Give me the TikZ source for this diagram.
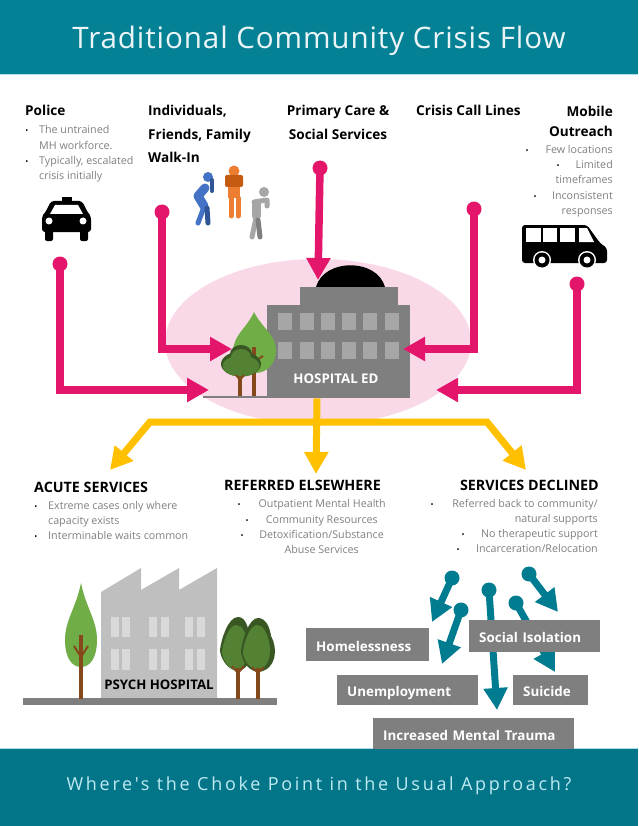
\documentclass[tikz,border=0pt]{standalone}
\usepackage{fontspec}
\setmainfont{Open Sans}
\newfontfamily\titlefont[LetterSpace=3]{Open Sans}
\newfontfamily\choke[LetterSpace=15]{Open Sans}
\usetikzlibrary{positioning,calc,arrows.meta,shapes.geometric}
\definecolor{crisisteal}{RGB}{0,124,145}
\definecolor{bandtop}{RGB}{5,129,149}
\definecolor{bandbottom}{RGB}{2,117,137}
\definecolor{bandedge}{RGB}{170,222,232}
\definecolor{chokecyan}{RGB}{190,235,242}
\definecolor{crisispink}{RGB}{227,22,108}
\definecolor{crisisyellow}{RGB}{255,192,0}
\definecolor{edpink}{RGB}{249,217,232}
\definecolor{buildgray}{RGB}{127,127,127}
\definecolor{windowgray}{RGB}{166,166,166}
\definecolor{psychgray}{RGB}{191,191,191}
\definecolor{psychwindow}{RGB}{217,217,217}
\definecolor{textgray}{RGB}{128,128,128}
\definecolor{leafgreen}{RGB}{112,173,71}
\definecolor{treegreen}{RGB}{84,130,53}
\definecolor{treedark}{RGB}{56,87,35}
\definecolor{trunkbrown}{RGB}{133,72,26}
\definecolor{figblue}{RGB}{68,114,196}
\definecolor{figbluedark}{RGB}{47,85,151}
\definecolor{figorange}{RGB}{237,125,49}
\definecolor{figorangedark}{RGB}{197,90,17}
\definecolor{figgray}{RGB}{166,166,166}
\definecolor{figgraydark}{RGB}{127,127,127}
\tikzstyle{heading} = [inner sep=0pt, yshift=-1.5pt, text height=10pt, text depth=3pt, font=\fontsize{13.6}{16}\selectfont\bfseries, text=black]
\tikzstyle{capsheading} = [heading, font=\fontsize{14.3}{16}\selectfont\bfseries]
\tikzstyle{bodyline} = [inner sep=0pt, yshift=-1.5pt, text height=7.7pt, text depth=2.3pt, font=\fontsize{10.7}{12}\selectfont, text=textgray]
\tikzstyle{bulletmark} = [inner sep=0pt, yshift=-1.5pt, text height=7.7pt, text depth=2.3pt, font=\fontsize{8}{9}\selectfont, text=black]
\tikzstyle{startdot} = [circle, inner sep=0pt, minimum size=15pt]
\tikzstyle{pinkarrow} = [line width=7.5pt, draw=crisispink, -{Triangle[length=22pt,width=23pt]}]
\tikzstyle{yellowarrow} = [line width=7pt, draw=crisisyellow, -{Triangle[length=22pt,width=23pt]}]
\tikzstyle{tealarrow} = [line width=7pt, draw=crisisteal, -{Triangle[length=22pt,width=23pt]}]
\tikzstyle{outcome} = [anchor=north west, inner xsep=10pt, inner ysep=0pt, text height=14pt, text depth=1.4pt, fill=buildgray, text=white, align=left, font=\fontsize{13.4}{15}\selectfont\bfseries]
\tikzstyle{tree} = [draw=none, fill=leafgreen]
\tikzstyle{trunk} = [line width=3.5pt, draw=trunkbrown]
\tikzstyle{twig} = [line width=2pt, draw=trunkbrown]
\begin{document}
\begin{tikzpicture}[x=1pt,y=-1pt]
        \path[use as bounding box, fill=white] (0,0) rectangle (638,826);
        % Bands ------------------------------------------------------------------------------------
        \fill[bandtop] (0,0) rectangle (638,74);
        \fill[bandedge] (0,74) rectangle (638,75);
        \fill[bandbottom] (0,749) rectangle (638,826);
        \fill[bandedge] (0,748) rectangle (638,749);
        \node[inner sep=0pt, text=white!92!bandtop, font=\fontsize{29.6}{32}\selectfont\titlefont] (title) at (319,41) {Traditional Community Crisis Flow};
        \node[inner sep=0pt, text=chokecyan, font=\fontsize{18}{22}\selectfont\choke] (choke_point) at (319,786) {Where's the Choke Point in the Usual Approach?};
        % Hospital ---------------------------------------------------------------------------------
        \node[ellipse, fill=edpink, inner sep=0pt, minimum width=306pt, minimum height=166pt] (ed_ellipse) at (318,342) {};
        \fill[black] (316,287) .. controls (324,258) and (377,258) .. (385,287) -- cycle;
        \fill[buildgray] (300,287) rectangle (398,305);
        \node[fill=buildgray, inner sep=0pt, minimum width=143pt, minimum height=93pt, anchor=north west, text=white] (hospital) at (267,305) {};
        \foreach \x in {278,300,321,342,363,385} {
            \fill[windowgray] (\x,313) rectangle ++(14,17);
            \fill[windowgray] (\x,342) rectangle ++(14,17);
        }
        \node[inner sep=0pt, text=white, font=\fontsize{13.3}{14}\selectfont\bfseries] (hospital_label) at (336,379) {HOSPITAL ED};
        \fill[buildgray] (203,396) rectangle (267,398);
        % Hospital droplet tree
        \fill[tree] (254,312) .. controls (247,328) and (233,335) .. (233,352) .. controls (233,366) and (243,373) .. (255,373) .. controls (267,373) and (276,364) .. (276,350) .. controls (276,335) and (262,328) .. (254,312) -- cycle;
        \draw[trunk] (254,347) -- (254,396);
        \draw[twig] (254,362) -- (263,356);
        % Pink arrows ------------------------------------------------------------------------------
        \node[startdot, fill=crisispink] (police_dot) at (60,264) {};
        \node[startdot, fill=crisispink] (people_dot) at (162,212) {};
        \node[startdot, fill=crisispink] (primary_dot) at (320,168) {};
        \node[startdot, fill=crisispink] (crisis_dot) at (474,209) {};
        \node[startdot, fill=crisispink] (mobile_dot) at (577,284) {};
        \coordinate (police_tip) at (209,390);
        \coordinate (people_tip) at (232,349);
        \coordinate (primary_tip) at (318,280);
        \coordinate (crisis_tip) at (403,349);
        \coordinate (mobile_tip) at (436,390);
        \draw[pinkarrow] (police_dot.center) |- (police_tip);
        \draw[pinkarrow] (people_dot.center) |- (people_tip);
        \draw[pinkarrow] (primary_dot.center) -- (primary_tip);
        \draw[pinkarrow] (crisis_dot.center) |- (crisis_tip);
        \draw[pinkarrow] (mobile_dot.center) |- (mobile_tip);
        % Hospital round tree
        \draw[trunk] (240,372) -- (240,396);
        \fill[treedark] (241,354) ellipse[x radius=11, y radius=9];
        \fill[treedark] (241,364) ellipse[x radius=20, y radius=12.5];
        \fill[treegreen] (241,357) ellipse[x radius=10, y radius=8];
        \fill[treegreen] (241,366) ellipse[x radius=18.5, y radius=10.5];
        \draw[twig] (240,380) -- (236,375);
        \draw[twig] (240,380) -- (244,375);
        % Yellow arrows ----------------------------------------------------------------------------
        \coordinate (split) at (317,422);
        \coordinate (acute_bend) at (150,422);
        \coordinate (declined_bend) at (487,422);
        \coordinate (acute_tip) at (110,470);
        \coordinate (elsewhere_tip) at (316,474);
        \coordinate (declined_tip) at (526,470);
        \draw[yellowarrow] (hospital.south -| split) -- (elsewhere_tip);
        \draw[yellowarrow] (split) -- (acute_bend) -- (acute_tip);
        \draw[yellowarrow] (split) -- (declined_bend) -- (declined_tip);
        % Icons ------------------------------------------------------------------------------------
        % Taxi
        \fill[black] (62,197) rectangle (72,201);
        \fill[black, rounded corners=3pt] (51,201) -- (82,201) -- (88,213) -- (91,216) -- (91,232) -- (42,232) -- (42,216) -- (45,213) -- cycle;
        \fill[black, rounded corners=2pt] (45,230) rectangle (53,241);
        \fill[black, rounded corners=2pt] (80,230) rectangle (88,241);
        \fill[white] (55,205) -- (78,205) -- (83,214) -- (50,214) -- cycle;
        \fill[white] (49,221) circle (3.5);
        \fill[white] (83,221) circle (3.5);
        % Bus
        \fill[black, rounded corners=3pt] (522,225) -- (587,225) -- (600,243) -- (607,248) -- (607,263) -- (522,263) -- cycle;
        \fill[white] (526,228) rectangle (541,242);
        \fill[white] (543,228) rectangle (557,242);
        \fill[white] (560,228) rectangle (575,242);
        \fill[white] (579,228) -- (587,228) -- (594,242) -- (579,242) -- cycle;
        \foreach \x in {542,587} {
            \fill[white] (\x,260) circle (9);
            \fill[black] (\x,260) circle (7.5);
            \fill[white] (\x,260) circle (3.5);
        }
        % Walk-in people
        \fill[figblue] (208,177) circle (5);
        \draw[line width=9pt, line cap=round, line join=round, figblue] (205,188) -- (198,196) -- (204,206);
        \draw[line width=5pt, line cap=round, figblue] (204,207) -- (198,223);
        \draw[line width=5pt, line cap=round, figbluedark] (207,208) -- (208,223);
        \draw[line width=4pt, line cap=round, figbluedark] (212,180) -- (212,191);
        \fill[figorange] (234,171) circle (5.5);
        \fill[figorange] (228,177) rectangle (240,198);
        \draw[line width=5pt, line cap=round, figorange] (231,198) -- (231,216);
        \draw[line width=5pt, line cap=round, figorange] (238,198) -- (238,216);
        \fill[figorangedark, rounded corners=2pt] (225,175) rectangle (243,187);
        \fill[figgray] (264,192) circle (5);
        \draw[line width=9pt, line cap=round, figgray] (256,204) -- (256,216);
        \draw[line width=5pt, line cap=round, figgray] (256,218) -- (252,237);
        \draw[line width=5pt, line cap=round, figgraydark] (258,220) -- (260,237);
        \draw[line width=5pt, line cap=round, line join=round, figgray] (254,202) -- (267,200) -- (267,206);
        % Source texts -----------------------------------------------------------------------------
        \node[heading, anchor=west] (police) at (25,111) {Police};
        \node[bulletmark] (police_b1) at (27,129) {•};
        \node[bodyline, anchor=west] (police_l1) at (39,129) {The untrained};
        \node[bodyline, anchor=west] (police_l2) at (39,145) {MH workforce.};
        \node[bulletmark] (police_b2) at (27,160) {•};
        \node[bodyline, anchor=west] (police_l3) at (39,160) {Typically, escalated};
        \node[bodyline, anchor=west] (police_l4) at (39,175) {crisis initially};
        \node[heading, anchor=west] (people_a) at (148,111) {Individuals,};
        \node[heading, anchor=west] (people_b) at (148,135) {Friends, Family};
        \node[heading, anchor=west] (people_c) at (148,158) {Walk-In};
        \node[heading] (primary_a) at (338,111) {Primary Care \&};
        \node[heading] (primary_b) at (338,135) {Social Services};
        \node[heading, anchor=west] (crisis_lines) at (416,111) {Crisis Call Lines};
        \node[heading, anchor=east] (mobile_a) at (613,112) {Mobile};
        \node[heading, anchor=east] (mobile_b) at (613,132) {Outreach};
        \node[bulletmark] (mobile_b1) at (527,149) {•};
        \node[bodyline, anchor=east] (mobile_l1) at (613,149) {Few locations};
        \node[bulletmark] (mobile_b2) at (558,164) {•};
        \node[bodyline, anchor=east] (mobile_l2) at (613,164) {Limited};
        \node[bodyline, anchor=east] (mobile_l3) at (613,179) {timeframes};
        \node[bulletmark] (mobile_b3) at (535,195) {•};
        \node[bodyline, anchor=east] (mobile_l4) at (613,195) {Inconsistent};
        \node[bodyline, anchor=east] (mobile_l5) at (613,210) {responses};
        % Result texts -----------------------------------------------------------------------------
        \node[capsheading, anchor=west] (acute) at (34,487) {ACUTE SERVICES};
        \node[bulletmark] (acute_b1) at (36,505) {•};
        \node[bodyline, anchor=west] (acute_l1) at (48,505) {Extreme cases only where};
        \node[bodyline, anchor=west] (acute_l2) at (48,520) {capacity exists};
        \node[bulletmark] (acute_b2) at (36,535) {•};
        \node[bodyline, anchor=west] (acute_l3) at (48,535) {Interminable waits common};
        \node[capsheading, anchor=west] (elsewhere) at (224,485) {REFERRED ELSEWHERE};
        \node[bulletmark] (elsewhere_b1) at (239,503) {•};
        \node[bodyline, anchor=east] (elsewhere_l1) at (386,503) {Outpatient Mental Health};
        \node[bulletmark] (elsewhere_b2) at (247,519) {•};
        \node[bodyline, anchor=east] (elsewhere_l2) at (378,519) {Community Resources};
        \node[bulletmark] (elsewhere_b3) at (242,534) {•};
        \node[bodyline, anchor=east] (elsewhere_l3) at (384,534) {Detoxification/Substance};
        \node[bodyline, anchor=east] (elsewhere_l4) at (359,549) {Abuse Services};
        \node[capsheading, anchor=east] (declined) at (599,485) {SERVICES DECLINED};
        \node[bulletmark] (declined_b1) at (432,503) {•};
        \node[bodyline, anchor=east] (declined_l1) at (598,503) {Referred back to community/};
        \node[bodyline, anchor=east] (declined_l2) at (598,518) {natural supports};
        \node[bulletmark] (declined_b2) at (463,533) {•};
        \node[bodyline, anchor=east] (declined_l3) at (598,533) {No therapeutic support};
        \node[bulletmark] (declined_b3) at (458,548) {•};
        \node[bodyline, anchor=east] (declined_l4) at (598,548) {Incarceration/Relocation};
        % Psych hospital ---------------------------------------------------------------------------
        \fill[psychgray] (101,699) -- (101,592) -- (141,568) -- (141,590) -- (179,568) -- (179,590) -- (217,568) -- (217,699) -- cycle;
        \foreach \x in {111,122,149,161,185,197} {
            \fill[psychwindow] (\x,617) rectangle ++(8,20);
            \fill[psychwindow] (\x,649) rectangle ++(8,21);
        }
        \node[inner sep=0pt, font=\fontsize{13.2}{14}\selectfont\bfseries] (psych_label) at (159,685) {PSYCH HOSPITAL};
        \fill[buildgray] (23,698) rectangle (277,705);
        \fill[tree] (81,583) .. controls (76,608) and (65,620) .. (65,640) .. controls (65,658) and (72,667) .. (81,667) .. controls (90,667) and (97,658) .. (97,640) .. controls (97,620) and (86,608) .. (81,583) -- cycle;
        \draw[trunk] (81,635) -- (81,699);
        \draw[twig] (81,657) -- (74,646);
        \draw[twig] (81,657) -- (88,646);
        \fill[treedark] (238,617) .. controls (246,617) and (248,628) .. (250,636) .. controls (255,650) and (250,670) .. (238,671) .. controls (226,670) and (220,656) .. (220,650) .. controls (221,640) and (228,617) .. (238,617) -- cycle;
        \fill[treegreen] (236,625) .. controls (243,625) and (246,634) .. (248,642) .. controls (250,655) and (245,669) .. (236,670) .. controls (228,669) and (222,658) .. (222,652) .. controls (223,642) and (229,625) .. (236,625) -- cycle;
        \fill[treedark] (258,618) .. controls (266,618) and (270,628) .. (271,636) .. controls (278,648) and (277,670) .. (258,672) .. controls (245,670) and (241,656) .. (241,651) .. controls (242,640) and (249,618) .. (258,618) -- cycle;
        \fill[treegreen] (257,625) .. controls (264,625) and (267,634) .. (269,642) .. controls (272,655) and (268,669) .. (257,670) .. controls (249,669) and (243,658) .. (243,652) .. controls (244,642) and (250,625) .. (257,625) -- cycle;
        \draw[trunk] (238,668) -- (238,699);
        \draw[trunk] (258,668) -- (258,699);
        \draw[twig] (238,673) -- (232,666);
        \draw[twig] (238,673) -- (244,666);
        \draw[twig] (258,673) -- (252,667);
        \draw[twig] (258,673) -- (264,667);
        % Teal arrows ------------------------------------------------------------------------------
        \node[startdot, fill=crisisteal] (homeless_dot) at (452,578) {};
        \node[startdot, fill=crisisteal] (unemploy_dot) at (461,610) {};
        \node[startdot, fill=crisisteal] (trauma_dot) at (489,590) {};
        \node[startdot, fill=crisisteal] (suicide_dot) at (516,603) {};
        \node[startdot, fill=crisisteal] (isolation_dot) at (529,574) {};
        \coordinate (homeless_tip) at (432,622);
        \coordinate (unemploy_tip) at (442,664);
        \coordinate (trauma_tip) at (497,710);
        \coordinate (suicide_tip) at (555,672);
        \coordinate (isolation_tip) at (558,612);
        \draw[tealarrow] (homeless_dot.center) -- (homeless_tip);
        \draw[tealarrow] (unemploy_dot.center) -- (unemploy_tip);
        \draw[tealarrow] (trauma_dot.center) -- (trauma_tip);
        \draw[tealarrow] (suicide_dot.center) -- (suicide_tip);
        \draw[tealarrow] (isolation_dot.center) -- (isolation_tip);
        % Outcome boxes ----------------------------------------------------------------------------
        \node[outcome, text width=103pt, minimum height=33pt] (homeless) at (306,628) {Homelessness};
        \node[outcome, text width=111pt, minimum height=32pt] (isolation) at (469,620) {Social Isolation};
        \node[outcome, text width=121pt, minimum height=30pt] (unemploy) at (337,675) {Unemployment};
        \node[outcome, text width=55pt, minimum height=30pt] (suicide) at (513,675) {Suicide};
        \node[outcome, text width=181pt, minimum height=31pt] (trauma) at (373,718) {Increased Mental Trauma};
    \end{tikzpicture}
\end{document}
